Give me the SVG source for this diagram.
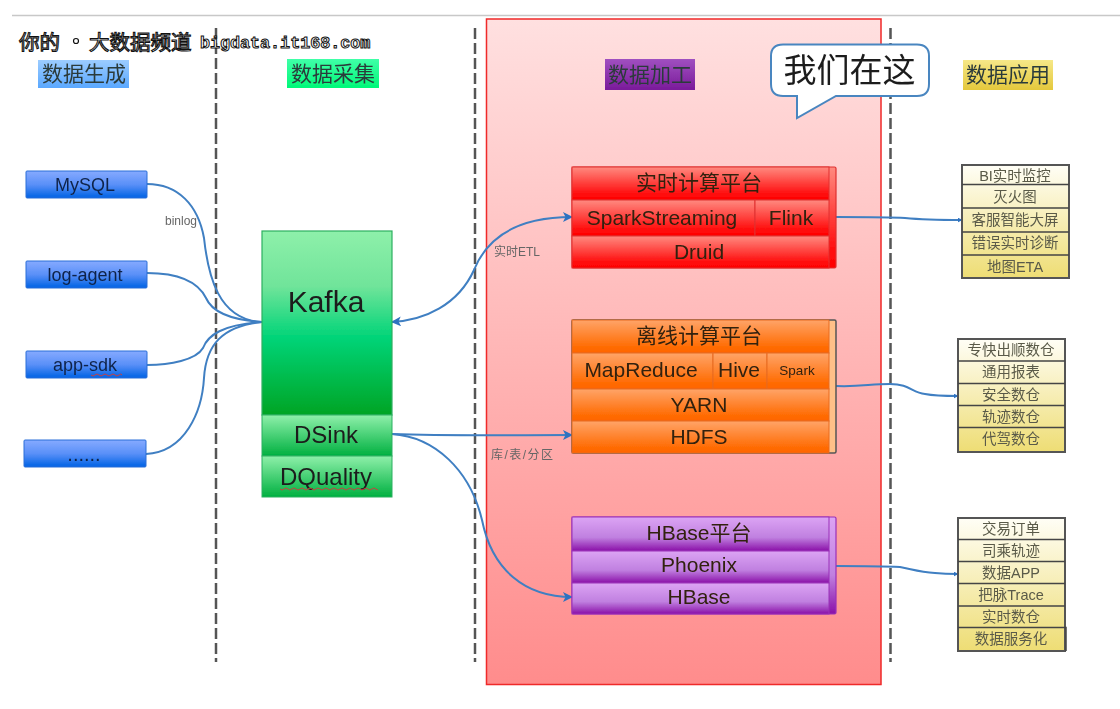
<svg xmlns="http://www.w3.org/2000/svg" width="1120" height="709" viewBox="0 0 1120 709">
<style>
text{font-family:"Liberation Sans","Noto Sans CJK SC",sans-serif;text-anchor:middle;fill:#1c1c1c}
.cjk{font-family:"Noto Sans CJK SC",sans-serif}
.t{font-size:21px;font-family:"Noto Sans CJK SC",sans-serif;fill:#2c3a3a}
.n{font-size:18px;fill:#10244a}
.b{font-size:21px;fill:#302010}
.l{font-size:14.5px;font-family:"Liberation Sans","Noto Sans CJK SC",sans-serif;fill:#5a5a48}
.s{font-size:12px;fill:#666;font-family:"Liberation Sans","Noto Sans CJK SC",sans-serif}
.w{font-size:20.5px;font-family:"Noto Sans CJK SC",sans-serif;fill:#fff;stroke:#111;stroke-width:1.1px;text-anchor:start}
.wm{font-size:16.7px;font-family:"Liberation Mono",monospace;fill:#fff;stroke:#111;stroke-width:1px;text-anchor:start;font-weight:bold}
.dash{stroke:#555;stroke-width:2.5;stroke-dasharray:11 4;fill:none}
.c{fill:none;stroke:#3f7fc2;stroke-width:2}
.sq{fill:none;stroke:#c84040;stroke-width:1}
.rr{stroke:#e03030;stroke-width:1}
.ro{stroke:#e86a20;stroke-width:1}
.rp{stroke:#9a30b8;stroke-width:1}
.rl{stroke:#444;stroke-width:1.5;fill:none}
.lb{fill:url(#gL);stroke:#555;stroke-width:2}
.sh{stroke:#2a6fd8;stroke-width:1}
</style>
<defs>
<filter id="soft" x="-2%" y="-2%" width="104%" height="104%"><feGaussianBlur stdDeviation="0.55"/></filter>
<linearGradient id="gPanel" x1="0" y1="0" x2="0" y2="1"><stop offset="0" stop-color="#ffe0e0"/><stop offset="1" stop-color="#ff8c8c"/></linearGradient>
<linearGradient id="gB" x1="0" y1="0" x2="0" y2="1"><stop offset="0" stop-color="#86aaff"/><stop offset=".5" stop-color="#5a90f8"/><stop offset="1" stop-color="#0062e4"/></linearGradient>
<linearGradient id="gK" x1="0" y1="0" x2="0" y2="1"><stop offset="0" stop-color="#8ef0aa"/><stop offset=".3" stop-color="#70e49a"/><stop offset=".58" stop-color="#00d478"/><stop offset="1" stop-color="#00a424"/></linearGradient>
<linearGradient id="gD" x1="0" y1="0" x2="0" y2="1"><stop offset="0" stop-color="#8ef0aa"/><stop offset="1" stop-color="#00b040"/></linearGradient>
<linearGradient id="gR" x1="0" y1="0" x2="0" y2="1"><stop offset="0" stop-color="#ff8a80"/><stop offset=".8" stop-color="#ff1010"/><stop offset="1" stop-color="#ff0000"/></linearGradient>
<linearGradient id="gO" x1="0" y1="0" x2="0" y2="1"><stop offset="0" stop-color="#ffa468"/><stop offset=".85" stop-color="#ff6a00"/><stop offset="1" stop-color="#ff6400"/></linearGradient>
<linearGradient id="gP" x1="0" y1="0" x2="0" y2="1"><stop offset="0" stop-color="#dca4f4"/><stop offset=".6" stop-color="#c080e0"/><stop offset="1" stop-color="#8a10a8"/></linearGradient>
<linearGradient id="gL" x1="0" y1="0" x2="0" y2="1"><stop offset="0" stop-color="#fffef6"/><stop offset="1" stop-color="#eedd74"/></linearGradient>
<linearGradient id="gT1" x1="0" y1="0" x2="0" y2="1"><stop offset="0" stop-color="#9cccff"/><stop offset="1" stop-color="#5aa8ff"/></linearGradient>
<linearGradient id="gT2" x1="0" y1="0" x2="0" y2="1"><stop offset="0" stop-color="#40ffa8"/><stop offset="1" stop-color="#00f878"/></linearGradient>
<linearGradient id="gT3" x1="0" y1="0" x2="0" y2="1"><stop offset="0" stop-color="#a050c0"/><stop offset="1" stop-color="#7a1a9a"/></linearGradient>
<linearGradient id="gT4" x1="0" y1="0" x2="0" y2="1"><stop offset="0" stop-color="#f6e888"/><stop offset="1" stop-color="#e4c83c"/></linearGradient>
<marker id="ah" viewBox="0 0 10 10" refX="9" refY="5" markerWidth="5" markerHeight="5" orient="auto-start-reverse"><path d="M0 0L10 5L0 10L2.5 5Z" fill="#2f72c0"/></marker>
<marker id="ahs" viewBox="0 0 10 10" refX="9" refY="5" markerWidth="2.500" markerHeight="2.500" orient="auto"><path d="M0 0L10 5L0 10Z" fill="#2f72c0"/></marker>
</defs>
<rect width="1120" height="709" fill="#fff"/>
<g filter="url(#soft)">
<path d="M12 15.5H1120" stroke="#c8c8c8" stroke-width="1.5"/>
<rect id="panel" x="486.500" y="19" width="394.500" height="665.500" fill="url(#gPanel)" stroke="#ef2a2a" stroke-width="1.500"/>
<g id="dividers">
<path class="dash" d="M216 28V662"/>
<path class="dash" d="M475 28V662"/>
<path class="dash" d="M890.500 28V662"/>
</g>
<g id="stage-titles">
<g id="title-gen"><rect x="38" y="60" width="91" height="28" fill="url(#gT1)"/><text class="t" x="84" y="81">数据生成</text></g>
<g id="title-collect"><rect x="287" y="59" width="92" height="29" fill="url(#gT2)"/><text class="t" x="333" y="81">数据采集</text></g>
<g id="title-process"><rect x="605" y="59" width="90" height="31" fill="url(#gT3)"/><text class="t" x="650" y="82">数据加工</text></g>
<g id="title-app"><rect x="963" y="60" width="90" height="30" fill="url(#gT4)"/><text class="t" x="1008" y="82">数据应用</text></g>
</g>
<g id="connectors">
<path class="c" d="M147 184C178 184 198 205 204 238C208 275 218 320 262 322"/>
<path class="c" d="M147 273C180 273 198 282 206 298C212 312 232 320 262 322"/>
<path class="c" d="M147 365C170 365 196 360 203 348C208 335 222 325 262 322"/>
<path class="c" d="M146 454C185 452 202 412 204 378C206 345 222 326 262 322"/>
<path class="c" marker-start="url(#ah)" marker-end="url(#ah)" d="M392 322C425 320 458 305 474 270C488 235 520 217 572 217"/>
<path class="c" marker-end="url(#ah)" d="M392 434C450 436 510 435 572 435"/>
<path class="c" marker-end="url(#ah)" d="M392 434C435 437 470 470 482 520C492 570 525 597 572 597"/>
<path class="c" marker-end="url(#ahs)" d="M836 217C870 217 890 217 905 218C925 220 940 220 962 220"/>
<path class="c" marker-end="url(#ahs)" d="M836 386C860 387 870 384 890 384C910 384 912 393 925 394C935 396 945 396 958 396"/>
<path class="c" marker-end="url(#ahs)" d="M836 566C860 566 880 566 900 567C915 570 920 572 935 573C945 574 950 574 958 574"/>
<text class="s" x="181" y="225">binlog</text>
<text class="s" x="517" y="256">实时ETL</text>
<text class="s" x="522" y="459" textLength="62">库/表/分区</text>
</g>
<g id="mysql"><rect x="26" y="171" width="121" height="27" rx="1" class="sh" fill="url(#gB)"/><text class="n" x="85" y="191">MySQL</text></g>
<g id="log-agent"><rect x="26" y="261" width="121" height="27" rx="1" class="sh" fill="url(#gB)"/><text class="n" x="85" y="281">log-agent</text></g>
<g id="app-sdk"><rect x="26" y="351" width="121" height="27" rx="1" class="sh" fill="url(#gB)"/><text class="n" x="85" y="371">app-sdk</text><path class="sq" d="M91 375q2 2 4 0t4 0t4 0t4 0t4 0t4 0t4 0t3 0"/></g>
<g id="others"><rect x="24" y="440" width="122" height="27" rx="1" class="sh" fill="url(#gB)"/><text class="n" x="84" y="461" style="font-size:20px">......</text></g>
<g id="kafka-stack">
<rect id="kafka" x="262" y="231" width="130" height="184" fill="url(#gK)" stroke="#2cb060" stroke-width="1.200"/>
<text x="326" y="312" style="font-size:30px" fill="#101010">Kafka</text>
<g id="dsink"><rect x="262" y="415" width="130" height="41" fill="url(#gD)" stroke="#2cb060"/><text x="326" y="443" style="font-size:24px">DSink</text></g>
<g id="dquality"><rect x="262" y="456" width="130" height="41" fill="url(#gD)" stroke="#2cb060"/><text x="326" y="485" style="font-size:24px">DQuality</text><path class="sq" d="M280 489q2 2 4 0t4 0t4 0t4 0t4 0t4 0t4 0t4 0t4 0t4 0t4 0t4 0t4 0t4 0t4 0t4 0t4 0t4 0t4 0t4 0t4 0t4 0t4 0t4 0t1 0"/></g>
</g>
<g id="callout"><path d="M783 44.500H917Q929 44.500 929 56V84Q929 96 917 96H836L797 118V96H783Q771 96 771 84V56Q771 44.500 783 44.500Z" fill="#fff" stroke="#4a86c0" stroke-width="2"/><text class="cjk" x="849.500" y="82" style="font-size:33px" fill="#222">我们在这</text></g>
<g id="realtime">
<rect x="572" y="167" width="264" height="101" rx="1.500" fill="url(#gR)" stroke="#e03030" stroke-width="1.200"/>
<rect class="rr" x="572" y="167" width="257" height="33" fill="url(#gR)"/>
<rect class="rr" x="572" y="200" width="183" height="36" fill="url(#gR)"/>
<rect class="rr" x="755" y="200" width="74" height="36" fill="url(#gR)"/>
<rect class="rr" x="572" y="236" width="257" height="32" fill="url(#gR)"/>
<text class="b cjk" x="699" y="190">实时计算平台</text>
<text class="b" x="662" y="225">SparkStreaming</text>
<text class="b" x="791" y="225">Flink</text>
<text class="b" x="699" y="259">Druid</text>
</g>
<g id="offline">
<rect x="572" y="320" width="264" height="133" rx="1.500" fill="#ffc088" stroke="#555" stroke-width="1.500"/>
<rect class="ro" x="572" y="320" width="257" height="33" fill="url(#gO)"/>
<rect class="ro" x="572" y="353" width="141" height="36" fill="url(#gO)"/>
<rect class="ro" x="713" y="353" width="54" height="36" fill="url(#gO)"/>
<rect class="ro" x="767" y="353" width="62" height="36" fill="url(#gO)"/>
<rect class="ro" x="572" y="389" width="257" height="32" fill="url(#gO)"/>
<rect class="ro" x="572" y="421" width="257" height="32" fill="url(#gO)"/>
<text class="b cjk" x="699" y="343">离线计算平台</text>
<text class="b" x="641" y="377">MapReduce</text>
<text class="b" x="739" y="377">Hive</text>
<text class="b" x="797" y="375" style="font-size:13.500px">Spark</text>
<text class="b" x="699" y="412">YARN</text>
<text class="b" x="699" y="444">HDFS</text>
</g>
<g id="hbase-platform">
<rect x="572" y="517" width="264" height="97" rx="1.500" fill="url(#gP)" stroke="#9a30b8" stroke-width="1.200"/>
<rect class="rp" x="572" y="517" width="257" height="34" fill="url(#gP)"/>
<rect class="rp" x="572" y="551" width="257" height="32" fill="url(#gP)"/>
<rect class="rp" x="572" y="583" width="257" height="31" fill="url(#gP)"/>
<text class="b" x="699" y="540" fill="#2a1a50">HBase平台</text>
<text class="b" x="699" y="572">Phoenix</text>
<text class="b" x="699" y="604">HBase</text>
</g>
<g id="list-realtime">
<rect class="lb" x="962" y="165" width="107" height="113"/>
<path class="rl" d="M962 184.500H1069M962 208H1069M962 232H1069M962 255H1069"/>
<text class="l" x="1015" y="181">BI实时监控</text>
<text class="l" x="1015" y="202">灭火图</text>
<text class="l" x="1015" y="225">客服智能大屏</text>
<text class="l" x="1015" y="248">错误实时诊断</text>
<text class="l" x="1015" y="272">地图ETA</text>
</g>
<g id="list-offline">
<rect class="lb" x="958" y="339" width="107" height="113"/>
<path class="rl" d="M958 361H1065M958 383.500H1065M958 405.500H1065M958 427.500H1065"/>
<text class="l" x="1011" y="355">专快出顺数仓</text>
<text class="l" x="1011" y="377">通用报表</text>
<text class="l" x="1011" y="400">安全数仓</text>
<text class="l" x="1011" y="422">轨迹数仓</text>
<text class="l" x="1011" y="444">代驾数仓</text>
</g>
<g id="list-hbase">
<rect class="lb" x="958" y="518" width="107" height="133"/>
<path class="rl" d="M958 539.500H1065M958 561.500H1065M958 583.500H1065M958 606H1065M958 627.500H1066V651"/>
<text class="l" x="1011" y="534">交易订单</text>
<text class="l" x="1011" y="556">司乘轨迹</text>
<text class="l" x="1011" y="578">数据APP</text>
<text class="l" x="1011" y="600">把脉Trace</text>
<text class="l" x="1011" y="622">实时数仓</text>
<text class="l" x="1011" y="644">数据服务化</text>
</g>
</g>
<g id="watermark">
<text class="w" x="19" y="50">你的</text>
<circle cx="76" cy="41" r="2.500" fill="#fff" stroke="#111" stroke-width="1.200"/>
<text class="w" x="89" y="50">大数据频道</text>
<text class="wm" x="200" y="48">bigdata.it168.com</text>
</g>
</svg>
